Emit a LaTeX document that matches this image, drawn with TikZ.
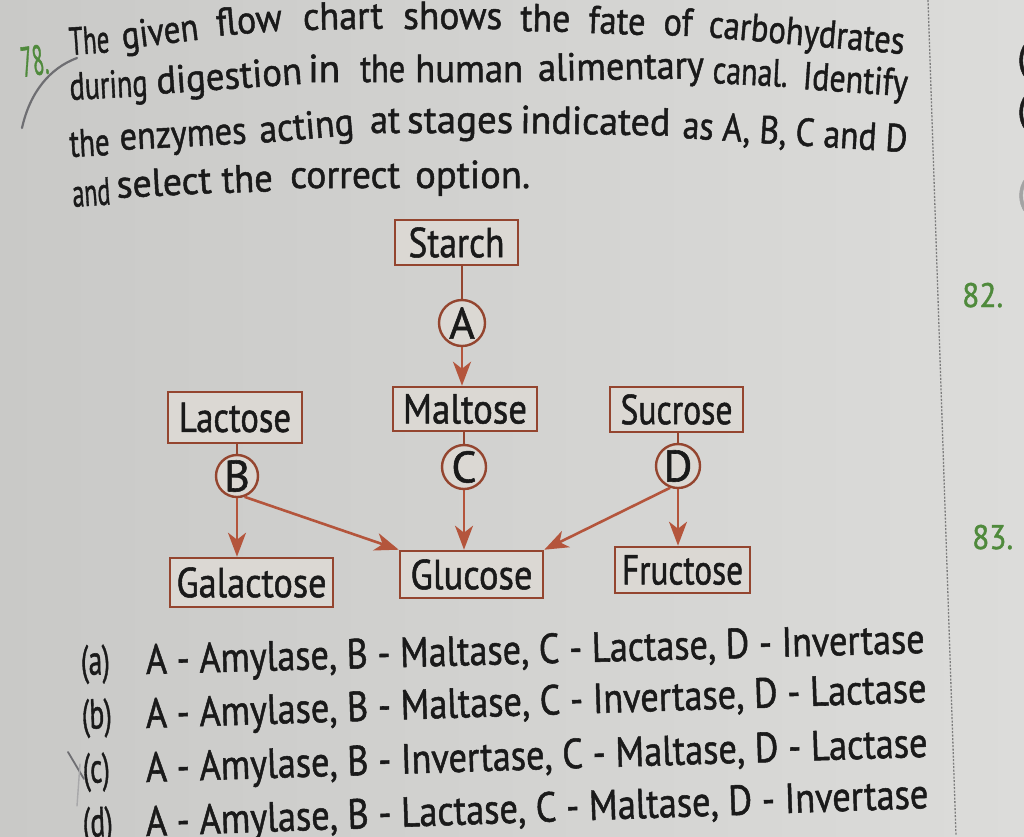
\documentclass[tikz,border=0pt]{standalone}
\usepackage{fontspec}
\setmainfont{PT Sans}[BoldFont={PT Sans}, BoldFeatures={FakeBold=1.3}]
\usetikzlibrary{arrows.meta}
\definecolor{ink}{HTML}{1A1A1A}
\definecolor{boxline}{HTML}{94452F}
\definecolor{arrowc}{HTML}{B4553C}
\definecolor{boxfill}{HTML}{DBD8D3}
\definecolor{bgL}{HTML}{C9C9C7}
\definecolor{bgR}{HTML}{DCDCDA}
\definecolor{qnum}{HTML}{4F8A3C}
\definecolor{pen}{HTML}{6E6E72}
\definecolor{marg}{HTML}{7C7C7C}
\newcommand\fitw[2]{\resizebox{#1pt}{\height}{#2}}
\newcommand\pword[6]{\node[wtxt, rotate=#4] (#1) at (#2,#3) {\fitw{#5}{#6}};}
\newcommand\popt[6]{\node[otxt, rotate=#4] (#1) at (#2,#3) {\fitw{#5}{#6}};}
\begin{document}
\begin{tikzpicture}[x=1pt,y=-1pt,
  wtxt/.style={anchor=base west, inner sep=0pt, text=ink, font=\fontsize{39}{42}\bfseries},
  otxt/.style={anchor=base west, inner sep=0pt, text=ink, font=\fontsize{42}{46}\bfseries},
  chem/.style={draw=boxline, line width=2.6pt, fill=boxfill, inner sep=0pt, text=ink, font=\fontsize{42}{44}\bfseries},
  enz/.style={circle, draw=boxline, line width=2.4pt, fill=boxfill, inner sep=0pt, text=ink, font=\fontsize{44}{46}\bfseries},
  link/.style={draw=boxline, line width=2pt},
  arr/.style={draw=arrowc, line width=2.6pt, -{Stealth[length=24pt,width=18pt,inset=7pt]}},
  qn/.style={anchor=base west, inner sep=0pt, text=qnum, font=\fontsize{34}{38}\bfseries},
  penmark/.style={draw=pen, line width=2.2pt, line cap=round},
  margin/.style={draw=marg, line width=1.3pt, dash pattern=on 2pt off 1.5pt}
]
\useasboundingbox (0,0) rectangle (1024,836);
\shade[left color=bgL, right color=bgR] (0,0) rectangle (1024,836);

% margin rule and neighbouring column
\coordinate (mtop) at (928,0);
\coordinate (mbot) at (956,836);
\draw[margin] (mtop) -- (mbot);
\node[qn] (q82) at (962,307) {\fitw{41}{82.}};
\node[qn] (q83) at (972,549) {\fitw{41}{83.}};
\node[wtxt] (p1) at (1017,70) {(};
\node[wtxt] (p2) at (1017,122) {(};
\node[wtxt, text=ink!40] (p3) at (1017,205) {(};

% question number and pen mark
\node[qn, rotate=8, font=\fontsize{42}{44}\bfseries] (q78) at (23,77) {\fitw{27}{78.}};
\draw[penmark] (77,58) .. controls (50,68) and (30,92) .. (22,128);

% question text
\pword{t1a}{70}{55}{4}{40}{The}
\pword{t1b}{123}{49}{7}{77}{given}
\pword{t1c}{217}{36}{5}{66}{flow}
\pword{t1d}{303}{30}{1}{80}{chart}
\pword{t1e}{403}{29}{0}{99}{shows}
\pword{t1f}{520}{31}{-1}{50}{the}
\pword{t1g}{588}{33}{-2}{57}{fate}
\pword{t1h}{663}{35}{-2}{29}{of}
\pword{t1i}{708}{37}{-5}{196}{carbohydrates}

\pword{t2a}{70}{100}{3}{78}{during}
\pword{t2b}{157}{94}{4}{146}{digestion}
\pword{t2c}{308}{82}{0}{32}{in}
\pword{t2d}{360}{82}{0}{45}{the}
\pword{t2e}{415}{82}{0}{108}{human}
\pword{t2f}{538}{81}{1}{166}{alimentary}
\pword{t2g}{712}{83}{-3}{75}{canal.}
\pword{t2h}{802}{89}{-4}{105}{Identify}

\pword{t3a}{70}{157}{3}{40}{the}
\pword{t3b}{120}{150}{3}{127}{enzymes}
\pword{t3c}{260}{143}{5}{95}{acting}
\pword{t3d}{370}{133}{0}{30}{at}
\pword{t3e}{407}{133}{0}{106}{stages}
\pword{t3f}{520}{133}{-1}{150}{indicated}
\pword{t3g}{682}{138}{-3.6}{225}{as A, B, C and D}

\pword{t4a}{73}{207}{4}{38}{and}
\pword{t4b}{117}{198}{3}{95}{select}
\pword{t4c}{222}{193}{2}{51}{the}
\pword{t4d}{290}{188}{0}{110}{correct}
\pword{t4e}{415}{188}{0}{115}{option.}

% flow chart
\node[chem, minimum width=123pt, minimum height=45pt] (starch) at (456.5,242.5) {\fitw{96}{Starch}};
\node[chem, minimum width=144pt, minimum height=44pt] (maltose) at (465,409) {\fitw{124}{Maltose}};
\node[chem, minimum width=134pt, minimum height=51pt] (lactose) at (235,417.5) {\fitw{112}{Lactose}};
\node[chem, minimum width=133pt, minimum height=45pt] (sucrose) at (676.5,409.5) {\fitw{112}{Sucrose}};
\node[chem, minimum width=163pt, minimum height=49pt] (galactose) at (251.5,582.5) {\fitw{150}{Galactose}};
\node[chem, minimum width=143pt, minimum height=47pt] (glucose) at (471.5,574.5) {\fitw{122}{Glucose}};
\node[chem, minimum width=135pt, minimum height=46pt] (fructose) at (682.5,570) {\fitw{121}{Fructose}};

\node[enz, minimum size=46pt] (A) at (462,323) {A};
\node[enz, minimum size=42pt] (B) at (237,476) {B};
\node[enz, minimum size=44pt] (C) at (464,467) {C};
\node[enz, minimum size=44pt] (D) at (678,466) {D};

\draw[link] (A |- starch.south) -- (A);
\draw[arr] (A) -- (A |- maltose.north);
\draw[link] (C |- maltose.south) -- (C);
\draw[arr] (C) -- (C |- glucose.north);
\draw[link] (B |- lactose.south) -- (B);
\draw[arr] (B) -- (B |- galactose.north);
\draw[arr] (B.-70) -- (glucose.north west);
\draw[link] (D |- sucrose.south) -- (D);
\draw[arr] (D) -- (D |- fructose.north);
\draw[arr] (D.-110) -- (glucose.north east);

% options
\popt{la}{81}{675}{1.6}{29}{(a)}
\popt{oa}{146}{674}{1.55}{779}{A - Amylase, B - Maltase, C - Lactase, D - Invertase}
\popt{lb}{82}{729}{1.9}{30}{(b)}
\popt{ob}{146}{728}{1.9}{781}{A - Amylase, B - Maltase, C - Invertase, D - Lactase}
\popt{lc}{83}{783}{1.85}{27}{(c)}
\popt{oc}{146}{782}{1.85}{782}{A - Amylase, B - Invertase, C - Maltase, D - Lactase}
\popt{ld}{83}{837}{2.05}{30}{(d)}
\popt{od}{146}{836}{2.05}{783}{A - Amylase, B - Lactase, C - Maltase, D - Invertase}

% pen tick beside (c)
\draw[penmark, line width=1.8pt] (68,752) -- (84,779);
\draw[penmark, line width=1.4pt, draw=pen!60] (80,764) -- (77,806);
\end{tikzpicture}
\end{document}
